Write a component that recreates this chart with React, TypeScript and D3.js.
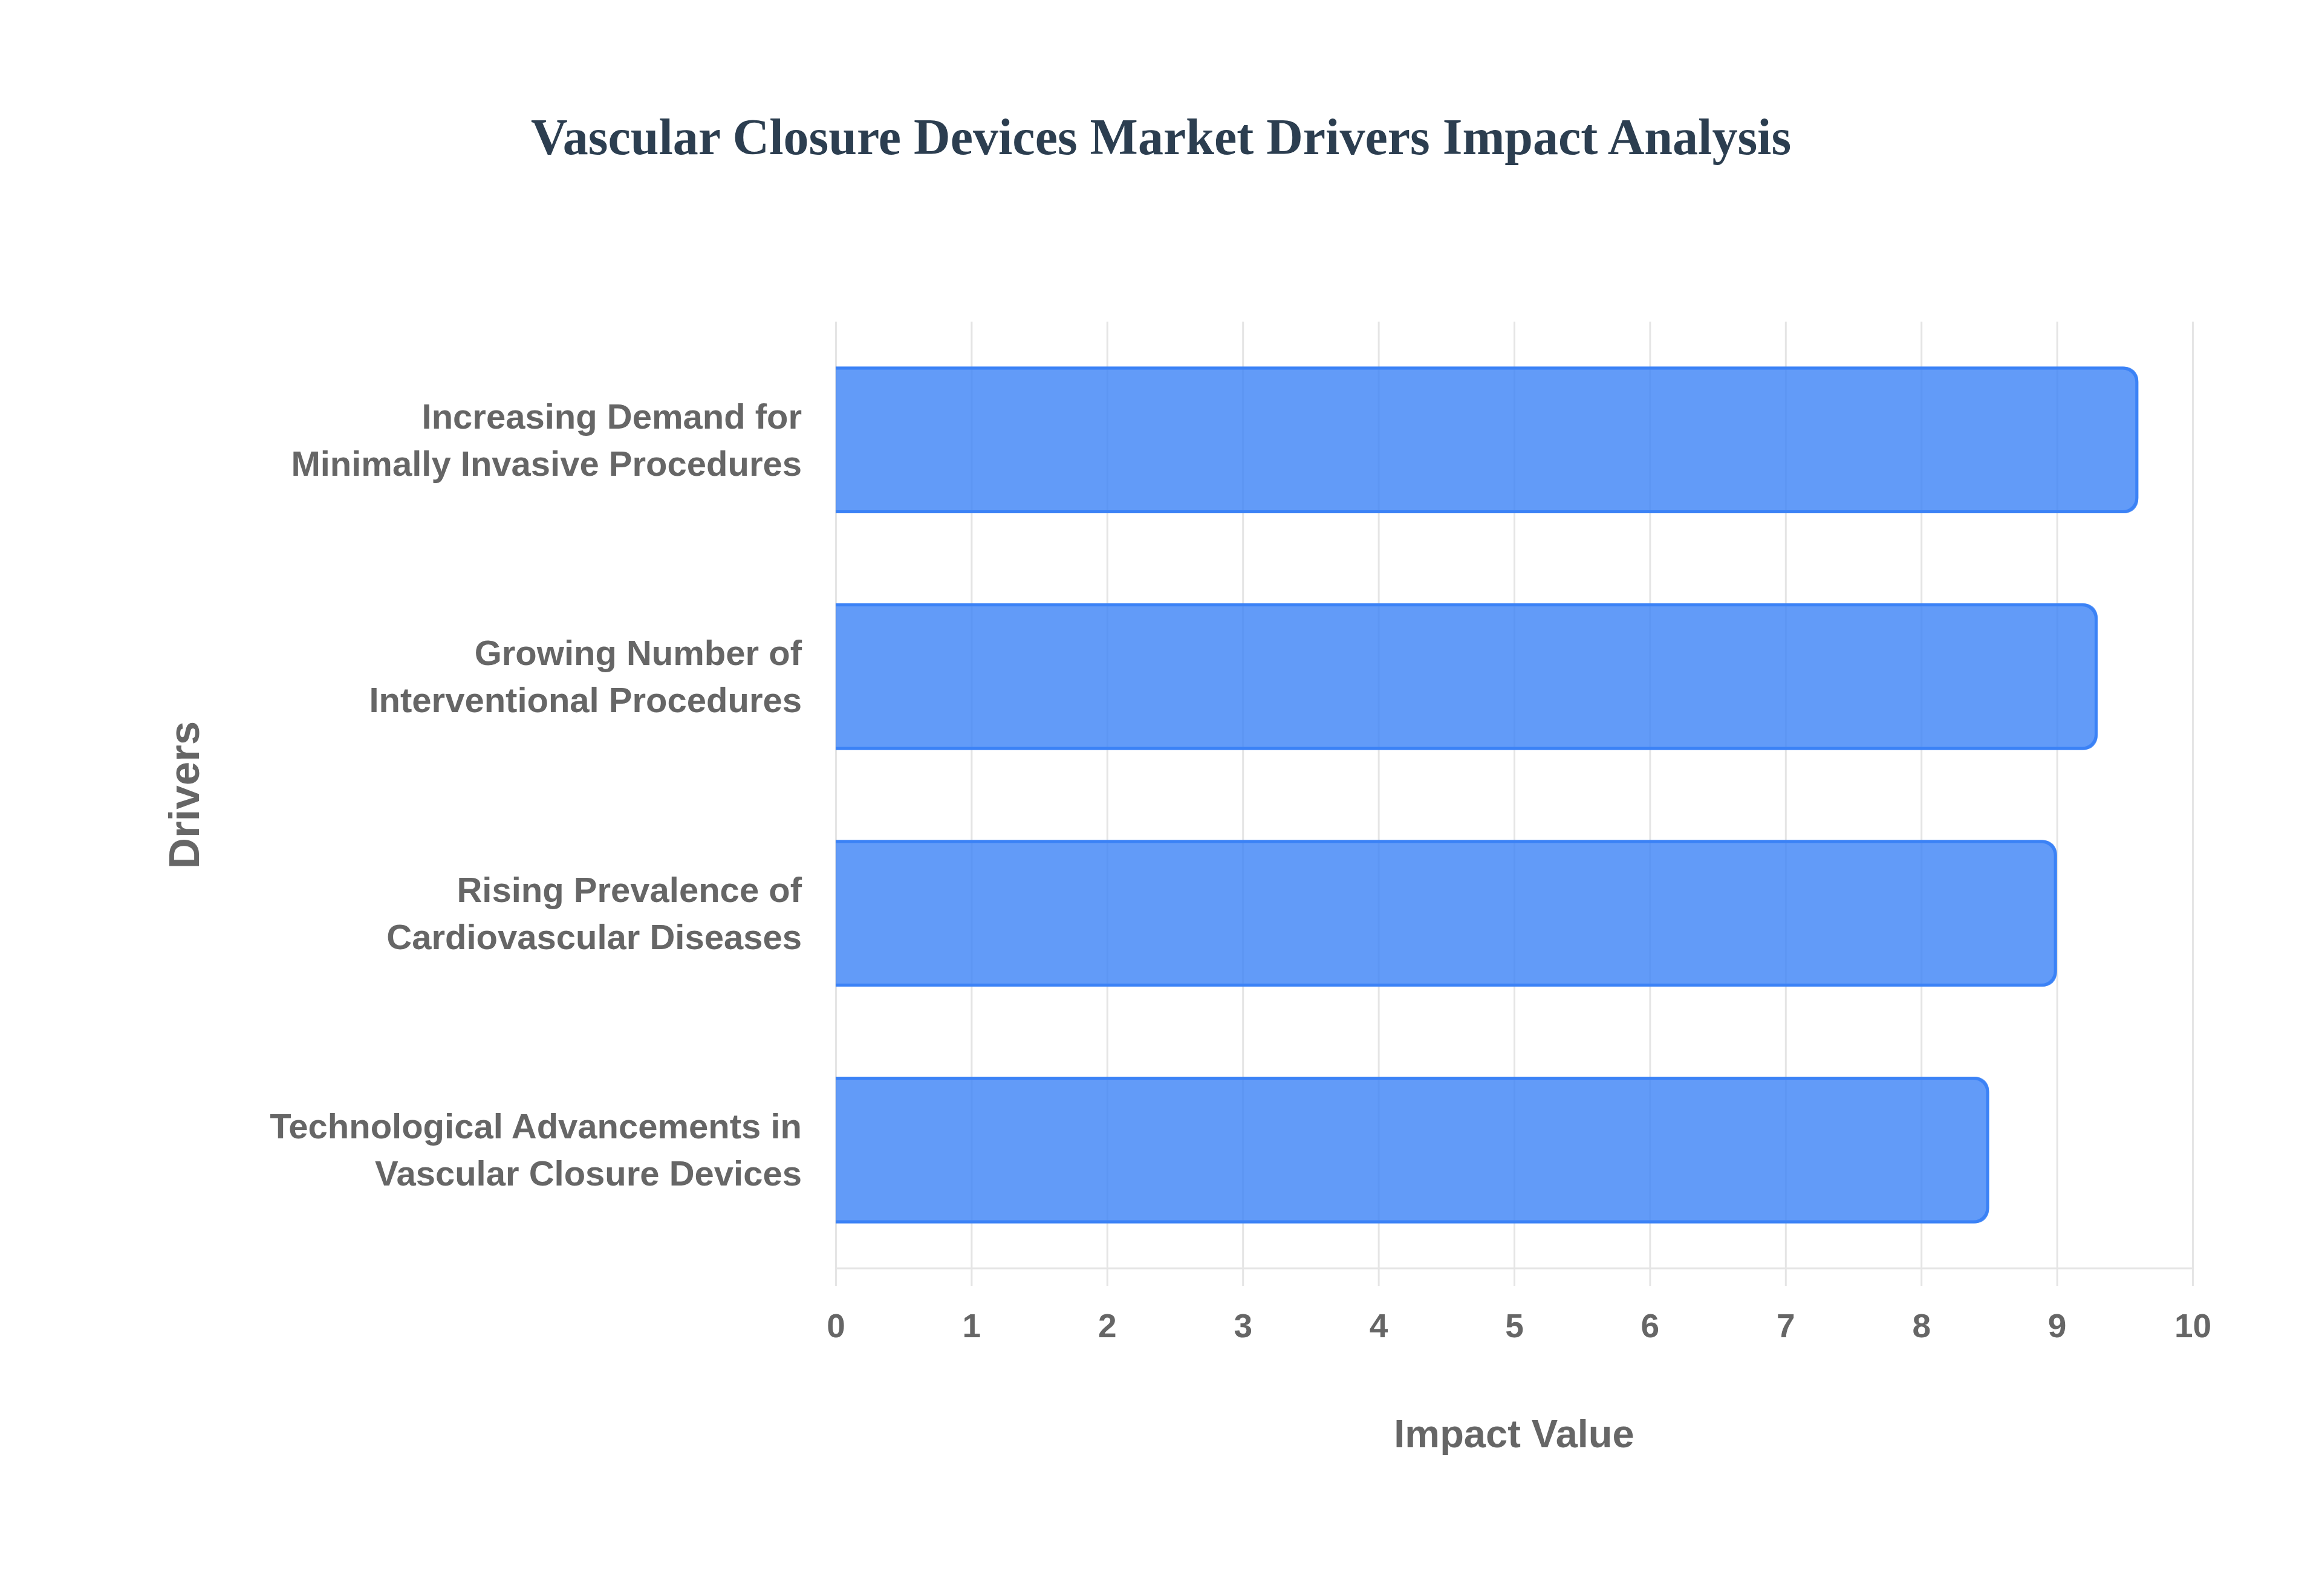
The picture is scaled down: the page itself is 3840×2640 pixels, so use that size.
import React, { useEffect, useRef } from "react";
import * as d3 from "d3";

// 드라이버 항목 (두 줄 레이블)
const drivers: string[][] = [
  ["Increasing Demand for", "Minimally Invasive Procedures"],
  ["Growing Number of", "Interventional Procedures"],
  ["Rising Prevalence of", "Cardiovascular Diseases"],
  ["Technological Advancements in", "Vascular Closure Devices"],
];

// 영향도 값
const impactValues: number[] = [9.6, 9.3, 9.0, 8.5];

// x축 눈금
const xTicks: number[] = [0, 1, 2, 3, 4, 5, 6, 7, 8, 9, 10];

const chartTitle = "Vascular Closure Devices Market Drivers Impact Analysis";
const xTitle = "Impact Value";
const yTitle = "Drivers";

const WIDTH = 3840;
const HEIGHT = 2640;

const App: React.FC = () => {
  const svgRef = useRef<SVGSVGElement>(null);

  useEffect(() => {
    if (!svgRef.current) return;
    const svg = d3.select(svgRef.current);
    svg.selectAll("*").remove();

    const margin = { top: 532, right: 214, bottom: 542, left: 1382 };
    const chartWidth = WIDTH - margin.left - margin.right;
    const chartHeight = HEIGHT - margin.top - margin.bottom;

    const sans = "'Liberation Sans', Arial, Helvetica, sans-serif";
    const textColor = "#666666";
    const gridColor = "#e5e5e5";

    svg
      .append("rect")
      .attr("width", WIDTH)
      .attr("height", HEIGHT)
      .attr("fill", "#ffffff");

    // 제목
    svg
      .append("text")
      .attr("x", WIDTH / 2)
      .attr("y", 255)
      .attr("text-anchor", "middle")
      .style("font-family", "'Liberation Serif', 'Times New Roman', serif")
      .style("font-weight", "bold")
      .style("font-size", "84px")
      .style("fill", "#2c3e50")
      .text(chartTitle);

    const g = svg
      .append("g")
      .attr("transform", `translate(${margin.left}, ${margin.top})`);

    const labels = drivers.map((d) => d.join(" "));

    const xScale = d3.scaleLinear().domain([0, 10]).range([0, chartWidth]);
    const yScale = d3
      .scaleBand<string>()
      .domain(labels)
      .range([0, chartHeight])
      .paddingInner(0.38)
      .paddingOuter(0.19);

    // 세로 그리드 라인 + 눈금
    const xAxis = g
      .append("g")
      .attr("transform", `translate(0, ${chartHeight})`)
      .call(
        d3
          .axisBottom(xScale)
          .tickValues(xTicks)
          .tickSize(29)
          .tickPadding(46)
          .tickFormat((d) => `${d}`)
      );
    xAxis.select(".domain").remove();
    xAxis
      .selectAll(".tick line")
      .attr("y1", -chartHeight)
      .attr("stroke", gridColor)
      .attr("stroke-width", 3);
    xAxis
      .selectAll(".tick text")
      .style("font-family", sans)
      .style("font-weight", "bold")
      .style("font-size", "55px")
      .style("fill", textColor);

    // 하단 축선
    g.append("line")
      .attr("x1", 0)
      .attr("x2", chartWidth)
      .attr("y1", chartHeight)
      .attr("y2", chartHeight)
      .attr("stroke", gridColor)
      .attr("stroke-width", 3);

    // 막대 (오른쪽 모서리만 둥글게, 왼쪽 테두리 생략)
    const radius = 23;
    const bw = 5;
    const bars = g
      .selectAll(".bar")
      .data(impactValues)
      .enter()
      .append("g")
      .attr("class", "bar");

    const barPath = (v: number, i: number, inset: number) => {
      const y0 = (yScale(labels[i]) as number) + inset;
      const h = yScale.bandwidth() - inset * 2;
      const x1 = xScale(v) - inset;
      const r = Math.min(radius, h / 2);
      const p = d3.path();
      p.moveTo(0, y0);
      p.lineTo(x1 - r, y0);
      p.arcTo(x1, y0, x1, y0 + r, r);
      p.lineTo(x1, y0 + h - r);
      p.arcTo(x1, y0 + h, x1 - r, y0 + h, r);
      p.lineTo(0, y0 + h);
      return p.toString();
    };

    bars
      .append("path")
      .attr("d", (d, i) => barPath(d, i, 0) + "Z")
      .attr("fill", "rgba(59, 130, 246, 0.8)");

    bars
      .append("path")
      .attr("d", (d, i) => barPath(d, i, bw / 2))
      .attr("fill", "none")
      .attr("stroke", "#3b82f6")
      .attr("stroke-width", bw);

    // y축 카테고리 레이블
    const lineGap = 78;
    labels.forEach((label, i) => {
      const cy = (yScale(label) as number) + yScale.bandwidth() / 2;
      const t = g
        .append("text")
        .attr("text-anchor", "end")
        .style("font-family", sans)
        .style("font-weight", "bold")
        .style("font-size", "58px")
        .style("fill", textColor);
      drivers[i].forEach((line, j) => {
        t.append("tspan")
          .attr("x", -56)
          .attr("y", cy - lineGap / 2 + j * lineGap + 20)
          .text(line);
      });
    });

    // 축 제목
    svg
      .append("text")
      .attr("x", margin.left + chartWidth / 2)
      .attr("y", 2394)
      .attr("text-anchor", "middle")
      .style("font-family", sans)
      .style("font-weight", "bold")
      .style("font-size", "65px")
      .style("fill", textColor)
      .text(xTitle);

    svg
      .append("text")
      .attr("transform", `translate(329, ${margin.top + chartHeight / 2}) rotate(-90)`)
      .attr("text-anchor", "middle")
      .style("font-family", sans)
      .style("font-weight", "bold")
      .style("font-size", "71px")
      .style("fill", textColor)
      .text(yTitle);
  }, []);

  return (
    <div style={{ position: "absolute", left: 0, top: 0 }}>
      <svg ref={svgRef} width={WIDTH} height={HEIGHT} style={{ display: "block" }} />
    </div>
  );
};

export default App;
